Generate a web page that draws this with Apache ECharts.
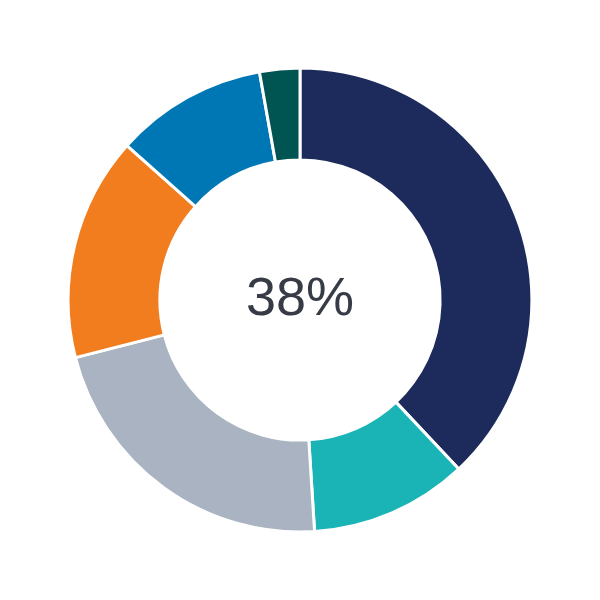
<!DOCTYPE html>
<html><head><meta charset="utf-8">
<script src="https://cdn.jsdelivr.net/npm/echarts@6/dist/echarts.min.js"></script>
<style>html,body{margin:0;padding:0;background:#fff}#c{width:600px;height:600px}</style>
</head><body><div id="c"></div>
<script>
const categories = ['A','B','C','D','E','F'];
const values = [38, 11, 22, 15.6, 10.6, 2.8];
const colors = ['#1c2b5b','#1bb4b6','#a9b3c1','#f27d1f','#0077b5','#005452'];
const centerLabel = '38%';

const chart = echarts.init(document.getElementById('c'));
chart.setOption({
  animation: false,
  title: {
    text: centerLabel,
    left: 'center',
    top: 'middle',
    textStyle: {fontFamily: 'Liberation Sans, Arial, sans-serif', fontSize: 54, fontWeight: 'normal', color: '#363b45'}
  },
  series: [{
    type: 'pie',
    center: ['50%','50%'],
    radius: ['46.7%','77.3%'],
    startAngle: 90,
    clockwise: true,
    label: {show: false},
    labelLine: {show: false},
    emphasis: {disabled: true},
    itemStyle: {borderColor: '#fff', borderWidth: 3},
    data: categories.map((c,i)=>({name:c, value:values[i], itemStyle:{color:colors[i]}}))
  }]
});
</script></body></html>
